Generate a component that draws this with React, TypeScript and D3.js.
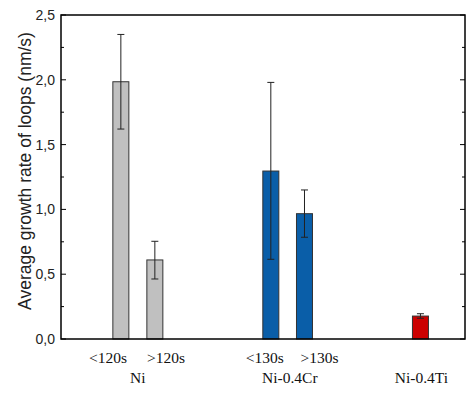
import React, { useEffect, useRef } from "react";
import * as d3 from "d3";

// bar data (x in axis units, value and error bounds in nm/s)
const barLabels = ["<120s", ">120s", "<130s", ">130s", ""];
const barPositions = [1.76, 2.76, 6.17, 7.16, 10.57];
const barValues = [1.985, 0.61, 1.296, 0.967, 0.177];
const errLow = [1.62, 0.463, 0.615, 0.785, 0.16];
const errHigh = [2.35, 0.754, 1.98, 1.15, 0.195];
const barColors = ["#c0c0c0", "#c0c0c0", "#0a5ea8", "#0a5ea8", "#cc0000"];
const subLabelPositions = [1.38, 3.09, 5.99, 7.6, 0];
const groupLabels = ["Ni", "Ni-0.4Cr", "Ni-0.4Ti"];
const groupPositions = [2.26, 6.73, 10.6];
const yTicks = [0, 0.5, 1.0, 1.5, 2.0, 2.5];

const W = 474;
const H = 395;
const margin = { top: 15, right: 9, bottom: 56, left: 61 };

const App = () => {
  const ref = useRef<SVGSVGElement>(null);

  useEffect(() => {
    const svg = d3.select(ref.current);
    svg.selectAll("*").remove();
    const pw = W - margin.left - margin.right;
    const ph = H - margin.top - margin.bottom;

    const x = d3.scaleLinear().domain([0, 11.88]).range([0, pw]);
    const y = d3.scaleLinear().domain([0, 2.5]).range([ph, 0]);
    const bw = 16;

    const g = svg.append("g").attr("transform", `translate(${margin.left},${margin.top})`);

    // bars
    g.selectAll("rect.bar")
      .data(barValues)
      .join("rect")
      .attr("class", "bar")
      .attr("x", (_, i) => x(barPositions[i]) - bw / 2)
      .attr("y", (d) => y(d))
      .attr("width", bw)
      .attr("height", (d) => y(0) - y(d))
      .attr("fill", (_, i) => barColors[i])
      .attr("stroke", "#333")
      .attr("stroke-width", 1);

    // error bars
    const eb = g.selectAll("g.err").data(barValues).join("g").attr("class", "err");
    eb.append("line")
      .attr("x1", (_, i) => x(barPositions[i]))
      .attr("x2", (_, i) => x(barPositions[i]))
      .attr("y1", (_, i) => y(errLow[i]))
      .attr("y2", (_, i) => y(errHigh[i]))
      .attr("stroke", "#222")
      .attr("stroke-width", 1);
    [errLow, errHigh].forEach((arr) => {
      eb.append("line")
        .attr("x1", (_, i) => x(barPositions[i]) - 3.5)
        .attr("x2", (_, i) => x(barPositions[i]) + 3.5)
        .attr("y1", (_, i) => y(arr[i]))
        .attr("y2", (_, i) => y(arr[i]))
        .attr("stroke", "#222")
        .attr("stroke-width", 1);
    });

    // frame
    g.append("rect")
      .attr("width", pw)
      .attr("height", ph)
      .attr("fill", "none")
      .attr("stroke", "#000")
      .attr("stroke-width", 1.5);

    // y ticks, inward on left and right
    const minor = d3.range(0.25, 2.5, 0.5);
    const ticks = (side: number, dir: number) => {
      yTicks.forEach((t) => {
        g.append("line")
          .attr("x1", side).attr("x2", side + dir * 5)
          .attr("y1", y(t)).attr("y2", y(t))
          .attr("stroke", "#000");
      });
      minor.forEach((t) => {
        g.append("line")
          .attr("x1", side).attr("x2", side + dir * 3)
          .attr("y1", y(t)).attr("y2", y(t))
          .attr("stroke", "#000");
      });
    };
    ticks(0, 1);
    ticks(pw, -1);

    g.selectAll("text.ytick")
      .data(yTicks)
      .join("text")
      .attr("class", "ytick")
      .attr("x", -6)
      .attr("y", (d) => y(d))
      .attr("dy", "0.35em")
      .attr("text-anchor", "end")
      .attr("font-family", "Liberation Sans, Arial, sans-serif")
      .attr("font-size", 14)
      .attr("fill", "#222")
      .text((d) => d3.format(".1f")(d).replace(".", ","));

    // axis title
    svg.append("text")
      .attr("transform", `translate(31,171) rotate(-90)`)
      .attr("text-anchor", "middle")
      .attr("font-family", "Liberation Sans, Arial, sans-serif")
      .attr("font-size", 17.5)
      .attr("fill", "#222")
      .text("Average growth rate of loops (nm/s)");

    // category labels
    g.selectAll("text.sub")
      .data(barLabels.filter((l) => l))
      .join("text")
      .attr("class", "sub")
      .attr("x", (_, i) => x(subLabelPositions[i]))
      .attr("y", ph + 24)
      .attr("text-anchor", "middle")
      .attr("font-family", "Liberation Serif, Times New Roman, serif")
      .attr("font-size", 15.5)
      .attr("fill", "#111")
      .text((d) => d);

    g.selectAll("text.grp")
      .data(groupLabels)
      .join("text")
      .attr("class", "grp")
      .attr("x", (_, i) => x(groupPositions[i]))
      .attr("y", ph + 44)
      .attr("text-anchor", "middle")
      .attr("font-family", "Liberation Serif, Times New Roman, serif")
      .attr("font-size", 15.5)
      .attr("fill", "#111")
      .text((d) => d);
  }, []);

  return (
    <svg
      ref={ref}
      width={W}
      height={H}
      style={{ position: "absolute", left: 0, top: 0, background: "#fff" }}
    />
  );
};

export default App;
